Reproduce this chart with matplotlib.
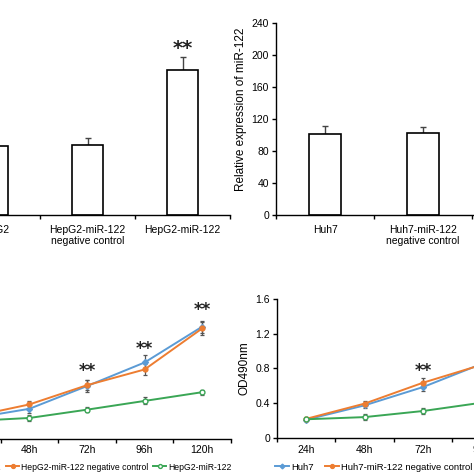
import matplotlib
matplotlib.use("Agg")
import matplotlib.pyplot as plt
import numpy as np

plt.rcParams['font.family'] = ['Liberation Sans', 'DejaVu Sans']

# bar panels
hep_groups = ['HepG2', 'HepG2-miR-122\nnegative control', 'HepG2-miR-122']
hep_expr = [86, 87.5, 181]
hep_expr_err = [8, 9, 17]
huh_groups = ['Huh7', 'Huh7-miR-122\nnegative control', 'Huh7-miR-122']
huh_expr = [101, 102.5, 200]
huh_expr_err = [10, 8, 15]
expr_ticks = [0, 40, 80, 120, 160, 200, 240]

# growth curves (OD490nm)
hours = ['24h', '48h', '72h', '96h', '120h']
hep_ctrl = [0.23, 0.34, 0.60, 0.87, 1.28]
hep_ctrl_err = [0.03, 0.05, 0.07, 0.08, 0.07]
hep_nc = [0.25, 0.39, 0.61, 0.79, 1.26]
hep_nc_err = [0.03, 0.04, 0.06, 0.06, 0.07]
hep_mir = [0.20, 0.235, 0.33, 0.43, 0.53]
hep_mir_err = [0.02, 0.03, 0.03, 0.04, 0.03]
huh_ctrl = [0.21, 0.375, 0.585, 0.85, 1.22]
huh_ctrl_err = [0.02, 0.03, 0.05, 0.06, 0.07]
huh_nc = [0.22, 0.395, 0.635, 0.84, 1.20]
huh_nc_err = [0.02, 0.03, 0.05, 0.05, 0.06]
huh_mir = [0.215, 0.24, 0.31, 0.405, 0.50]
huh_mir_err = [0.02, 0.03, 0.03, 0.03, 0.04]
od_ticks = [0, 0.4, 0.8, 1.2, 1.6]

BLUE = '#5b9bd5'
ORANGE = '#ed7d31'
GREEN = '#3aa655'
W = 474.0

fig = plt.figure(figsize=(4.74, 4.74), dpi=100)


def px_axes(l, t, r, b):
    return fig.add_axes([l / W, 1 - b / W, (r - l) / W, (b - t) / W])


def style(ax, n):
    for s in ['top', 'right']:
        ax.spines[s].set_visible(False)
    ax.spines['left'].set_linewidth(1.0)
    ax.spines['bottom'].set_linewidth(1.0)
    ax.set_xlim(-0.5, n - 0.5)
    ax.set_xticks(np.arange(n))
    ax.set_xticks(np.arange(n + 1) - 0.5, minor=True)
    ax.tick_params(axis='x', which='major', length=0, labelsize=7.5)
    ax.tick_params(axis='x', which='minor', length=3, width=1.0, direction='out')
    ax.tick_params(axis='y', length=3, width=1.0, direction='out', labelsize=7.5, pad=2)


def stars(ax, x, y, fs):
    ax.text(x, y, '**', ha='center', va='center', fontsize=fs, family='DejaVu Sans',
            fontweight='bold', color='#222222')


def bar_panel(ax, groups, vals, errs):
    x = np.arange(len(groups))
    ax.bar(x, vals, width=0.32, color='white', edgecolor='black', linewidth=1.2, zorder=2)
    ax.errorbar(x, vals, yerr=[np.zeros(len(vals)), errs], fmt='none', ecolor='#444444',
                elinewidth=1.0, capsize=2, capthick=1.0, zorder=1)
    style(ax, len(groups))
    ax.set_xticklabels(groups, linespacing=1.1)
    ax.tick_params(axis='x', which='major', pad=7)
    ax.set_ylim(0, 240)
    ax.set_yticks(expr_ticks)


def line_panel(ax, series, labels, star_pos, legend_x, fs, colsp):
    x = np.arange(len(hours))
    specs = [(BLUE, 'D', BLUE, 3), (ORANGE, 'o', ORANGE, 3.5), (GREEN, 'o', 'white', 3.5)]
    handles = []
    for (vals, errs), (c, m, fc, ms), lab in zip(series, specs, labels):
        ax.errorbar(x, vals, yerr=errs, fmt='none', ecolor='#555555', elinewidth=0.9,
                    capsize=1.5, capthick=0.9, zorder=1)
        h, = ax.plot(x, vals, color=c, lw=1.4, marker=m, ms=ms, mfc=fc, mec=c, mew=1.0,
                     label=lab, zorder=3)
        handles.append(h)
    for xi, yi in star_pos:
        stars(ax, xi, yi, 12)
    style(ax, len(hours))
    ax.set_xticklabels(hours)
    ax.tick_params(axis='x', which='major', pad=5)
    ax.set_ylim(0, 1.6)
    ax.set_yticks(od_ticks)
    ax.set_yticklabels(['0', '0.4', '0.8', '1.2', '1.6'])
    fig.legend(handles=handles, loc='center left', ncol=3, frameon=False,
               bbox_to_anchor=(legend_x / W, 1 - 467 / W), borderpad=0, borderaxespad=0,
               handlelength=1.5, handletextpad=0.2, columnspacing=colsp, fontsize=fs,
               markerscale=0.8)


# A: HepG2 expression
axA = px_axes(-55, 23.3, 230, 215)
bar_panel(axA, hep_groups, hep_expr, hep_expr_err)
stars(axA, 2, 209, 14)

# B: Huh7 expression
axB = px_axes(276, 23.3, 570, 215)
bar_panel(axB, huh_groups, huh_expr, huh_expr_err)
axB.set_ylabel('Relative expression of miR-122', fontsize=8.5)
axB.yaxis.set_label_coords(-0.099, 0.55)

# C: HepG2 growth
axC = px_axes(-57, 298.7, 231, 438.5)
line_panel(axC, [(hep_ctrl, hep_ctrl_err), (hep_nc, hep_nc_err), (hep_mir, hep_mir_err)],
           ['HepG2', 'HepG2-miR-122 negative control', 'HepG2-miR-122'],
           [(2, 0.77), (3, 1.03), (4, 1.47)], -41, 6.2, 0.6)

# D: Huh7 growth
axD = px_axes(277, 298.7, 569, 438)
line_panel(axD, [(huh_ctrl, huh_ctrl_err), (huh_nc, huh_nc_err), (huh_mir, huh_mir_err)],
           ['Huh7', 'Huh7-miR-122 negative control', 'Huh7-miR-122'],
           [(2, 0.77)], 275, 6.8, 1.2)
axD.set_ylabel('OD490nm', fontsize=8.5)
axD.yaxis.set_label_coords(-0.091, 0.5)

fig.savefig('out.png', dpi=100)
